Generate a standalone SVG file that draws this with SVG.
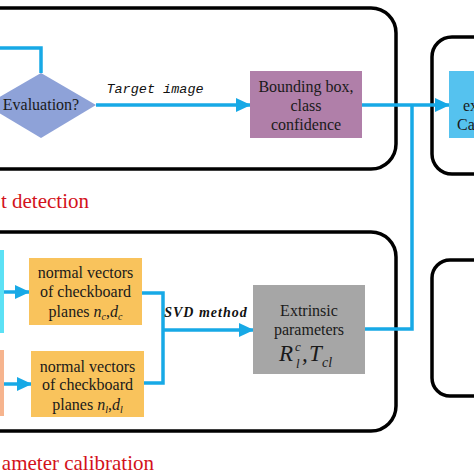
<svg xmlns="http://www.w3.org/2000/svg" width="474" height="474" viewBox="0 0 474 474">
<defs>
<style>
.frame{fill:none;stroke:#000;stroke-width:3.5}
.conn{fill:none;stroke:#17a9e6;stroke-width:3.5}
.t{font-family:"Liberation Serif","Times New Roman",serif;font-size:16px;fill:#1a1a1a;text-anchor:middle}
.red{font-family:"Liberation Serif","Times New Roman",serif;font-size:21px;fill:#d3121b;text-anchor:end}
.m{font-family:"Liberation Serif","Times New Roman",serif;font-style:italic;fill:#1a1a1a}
</style>
<marker id="ah" markerUnits="userSpaceOnUse" markerWidth="16" markerHeight="14" refX="14" refY="7" orient="auto">
<polygon points="0,0 15,7 0,14" fill="#17a9e6"/>
</marker>
</defs>
<rect width="474" height="474" fill="#fff"/>

<g id="frame-detection">
<rect class="frame" x="-30" y="8" width="426" height="161" rx="25"/>
<text class="red" x="89" y="208">t detection</text>
</g>
<g id="frame-calibration">
<rect class="frame" x="-30" y="232" width="426" height="199" rx="25"/>
<text class="red" x="154" y="470">ameter calibration</text>
</g>
<g id="frame-right-top">
<rect class="frame" x="432" y="37" width="90" height="137" rx="20"/>
</g>
<g id="frame-right-bottom">
<rect class="frame" x="432" y="260" width="90" height="136" rx="18"/>
</g>

<g id="connectors">
<path class="conn" d="M41,73 V48 H-5"/>
<path class="conn" d="M96,105 H250" marker-end="url(#ah)"/>
<path class="conn" d="M362,105 H449" marker-end="url(#ah)"/>
<path class="conn" d="M412,105 V329 H365"/>
<path class="conn" d="M4,292 H29" marker-end="url(#ah)"/>
<path class="conn" d="M4,384 H31" marker-end="url(#ah)"/>
<path class="conn" d="M142,293 H163 V383 H144"/>
<path class="conn" d="M163,330 H253" marker-end="url(#ah)"/>
<text x="155" y="93" font-family="Liberation Mono,Courier New,monospace" font-style="italic" font-size="13.5" fill="#111" text-anchor="middle">Target image</text>
<text x="206" y="317" font-family="Liberation Serif,Times New Roman,serif" font-style="italic" font-weight="bold" font-size="14" letter-spacing="1" fill="#111" text-anchor="middle">SVD method</text>
</g>

<g id="evaluation">
<polygon points="-14,105 41,73 96,105 41,138" fill="#8ea2d8"/>
<text class="t" x="41" y="110">Evaluation?</text>
</g>

<g id="bounding-box">
<rect x="250" y="71" width="112" height="67" fill="#b07fa9"/>
<text class="t" x="306" y="92">Bounding box,</text>
<text class="t" x="306" y="111">class</text>
<text class="t" x="306" y="130">confidence</text>
</g>

<g id="right-blue">
<rect x="449" y="71" width="40" height="67" fill="#55c2ef"/>
<text class="t" x="463" y="111" style="text-anchor:start">ex</text>
<text class="t" x="457" y="130" style="text-anchor:start">Ca</text>
</g>

<g id="camera-input">
<rect x="-4" y="250" width="8" height="83" fill="#5ce1f5"/>
</g>
<g id="lidar-input">
<rect x="-4" y="350" width="8" height="66" fill="#f6b48e"/>
</g>

<g id="normal-camera">
<rect x="29" y="258" width="113" height="67" fill="#f9c35c"/>
<text class="t" x="85.5" y="278">normal vectors</text>
<text class="t" x="85.5" y="297">of checkboard</text>
<text class="t" x="85.5" y="317">planes <tspan font-style="italic">n</tspan><tspan font-style="italic" font-size="10" dy="3">c</tspan><tspan dy="-3">,</tspan><tspan font-style="italic">d</tspan><tspan font-style="italic" font-size="10" dy="3">c</tspan></text>
</g>

<g id="normal-lidar">
<rect x="31" y="351" width="113" height="66" fill="#f9c35c"/>
<text class="t" x="87.5" y="372">normal vectors</text>
<text class="t" x="87.5" y="390">of checkboard</text>
<text class="t" x="87.5" y="410">planes <tspan font-style="italic">n</tspan><tspan font-style="italic" font-size="10" dy="3">l</tspan><tspan dy="-3">,</tspan><tspan font-style="italic">d</tspan><tspan font-style="italic" font-size="10" dy="3">l</tspan></text>
</g>

<g id="extrinsic">
<rect x="253" y="285" width="112" height="89" fill="#a6a6a6"/>
<text class="t" x="309" y="316">Extrinsic</text>
<text class="t" x="309" y="335">parameters</text>
<text class="m" x="279" y="361" font-size="23">R</text>
<text class="m" x="295" y="351" font-size="13">c</text>
<text class="m" x="296" y="368" font-size="13">l</text>
<text class="m" x="302" y="361" font-size="23">,</text>
<text class="m" x="309" y="361" font-size="23">T</text>
<text class="m" x="322" y="367" font-size="14">cl</text>
</g>
</svg>
